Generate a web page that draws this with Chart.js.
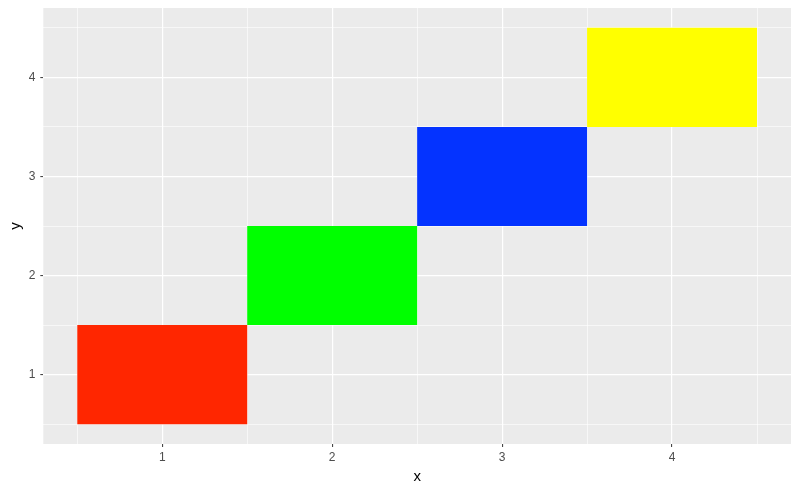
<!DOCTYPE html>
<html>
<head>
<meta charset="utf-8">
<script src="https://cdn.jsdelivr.net/npm/chart.js@4/dist/chart.umd.min.js"></script>
<style>
html,body{margin:0;padding:0;background:#fff;}
#wrap{width:800px;height:494px;}
</style>
</head>
<body>
<div id="wrap"><canvas id="c" width="800" height="494"></canvas></div>
<script>
const xValues = [1, 2, 3, 4];
const yValues = [1, 2, 3, 4];
const tileColors = ['#FF2600', '#00FF00', '#0433FF', '#FFFF00'];
const xTicks = [1, 2, 3, 4];
const yTicks = [1, 2, 3, 4];

const tiles = xValues.map((x, i) => ({ x: x, y: [yValues[i] - 0.5, yValues[i] + 0.5] }));

const panelBg = {
  id: 'panelBg',
  beforeDraw(chart) {
    const a = chart.chartArea, ctx = chart.ctx;
    ctx.save();
    ctx.fillStyle = '#EBEBEB';
    ctx.fillRect(a.left, a.top, a.right - a.left, a.bottom - a.top);
    ctx.restore();
  }
};

const isMajor = v => Math.abs(v - Math.round(v)) < 1e-6;
const gridStyle = () => ({
  offset: false,
  color: '#FFFFFF',
  lineWidth: ctx => (ctx.tick && isMajor(ctx.tick.value) ? 1.2 : 0.6),
  tickColor: ctx => (ctx.tick && isMajor(ctx.tick.value) ? '#333333' : 'rgba(0,0,0,0)'),
  tickLength: 3,
  tickWidth: 1,
  drawOnChartArea: true,
  drawTicks: true
});

const halfSteps = axis => {
  const t = [];
  for (let v = 0.5; v <= 4.5 + 1e-9; v += 0.5) t.push({ value: v });
  axis.ticks = t;
};

new Chart(document.getElementById('c'), {
  type: 'bar',
  data: {
    datasets: [{
      data: tiles,
      backgroundColor: tileColors,
      borderWidth: 0,
      barPercentage: 2,
      categoryPercentage: 1,
      grouped: false
    }]
  },
  plugins: [panelBg],
  options: {
    responsive: false,
    animation: false,
    devicePixelRatio: 1,
    layout: { padding: { left: 0, right: 9, top: 8, bottom: 0 } },
    plugins: { legend: { display: false }, tooltip: { enabled: false } },
    scales: {
      x: {
        type: 'linear',
        min: 0.3, max: 4.7,
        offset: false,
        border: { display: false },
        grid: gridStyle(),
        afterBuildTicks: halfSteps,
        afterFit: axis => { axis.height = 50; axis.paddingLeft = 0; axis.paddingRight = 0; },
        ticks: {
          autoSkip: false,
          maxRotation: 0,
          padding: 3,
          color: '#4D4D4D',
          font: { family: '"Liberation Sans", Arial, sans-serif', size: 12 },
          callback: v => (xTicks.includes(v) ? String(v) : '')
        },
        title: {
          display: true, text: 'x', color: '#000000',
          font: { family: '"Liberation Sans", Arial, sans-serif', size: 15 },
          padding: { top: 0, bottom: 8 }
        }
      },
      y: {
        type: 'linear',
        min: 0.3, max: 4.7,
        border: { display: false },
        grid: gridStyle(),
        afterBuildTicks: halfSteps,
        afterFit: axis => { axis.width = 43.3; axis.paddingTop = 0; axis.paddingBottom = 0; },
        ticks: {
          autoSkip: false,
          padding: 5,
          color: '#4D4D4D',
          font: { family: '"Liberation Sans", Arial, sans-serif', size: 12 },
          callback: v => (yTicks.includes(v) ? String(v) : '')
        },
        title: {
          display: true, text: 'y', color: '#000000',
          font: { family: '"Liberation Sans", Arial, sans-serif', size: 15 },
          padding: { top: 7, bottom: 0 }
        }
      }
    }
  }
});
</script>
</body>
</html>
